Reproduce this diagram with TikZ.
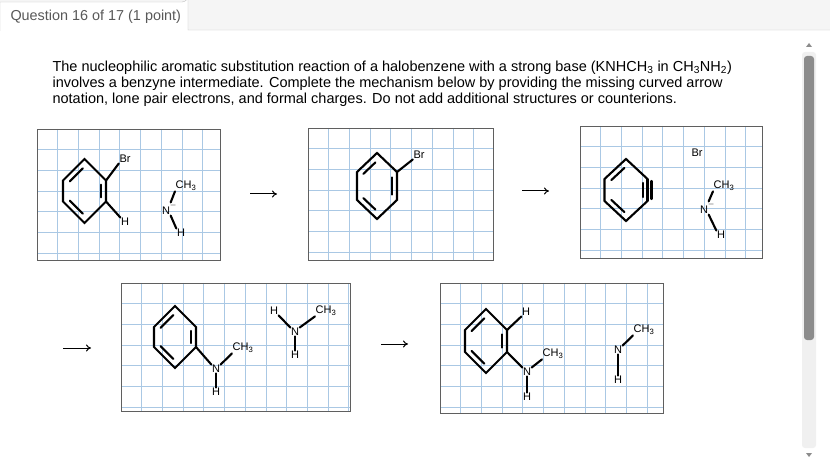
\documentclass[tikz,border=0pt]{standalone}
\usepackage{fontspec}
\setmainfont{Liberation Sans}
\usetikzlibrary{calc,arrows.meta}
\definecolor{gridc}{RGB}{170,200,228}
\definecolor{boxc}{RGB}{95,95,95}
\tikzset{
 gridbox/.style={draw=boxc,line width=0.9pt},
 bond/.style={line width=2.1pt,line cap=round},
 atom/.style={font=\fontsize{11}{11}\selectfont,inner sep=0.5pt,fill=none},
 rxn/.style={line width=1pt,-{To[length=5pt,width=7pt]}},
}
\newcommand\gbox[5]{% name x1 y1 x2 y2
 \begin{scope}
 \clip (#2,#3) rectangle (#4,#5);
 \foreach \i in {1,...,12}{\draw[gridc,line width=0.7pt] ({#2+20.7*\i},#3) -- ({#2+20.7*\i},#5);
   \draw[gridc,line width=0.7pt] (#2,{#3+20.7*\i}) -- (#4,{#3+20.7*\i});}
 \end{scope}
 \node[gridbox,minimum width={(#4-#2)*1pt},minimum height={(#5-#3)*1pt},anchor=north west,inner sep=0] (#1) at (#2,#3) {};}
% name cx cy halfwidth halfedge topoffset
\newcommand\ring[6]{%
 \coordinate (#1c) at (#2,#3);
 \coordinate (#11) at (#2,{#3-#6});
 \coordinate (#12) at ({#2+#4},{#3-#5});
 \coordinate (#13) at ({#2+#4},{#3+#5});
 \coordinate (#14) at (#2,{#3+#6});
 \coordinate (#15) at ({#2-#4},{#3+#5});
 \coordinate (#16) at ({#2-#4},{#3-#5});}
\newcommand\dbl[3]{\draw[bond] ($($(#1)!0.1!(#2)$)!0.24!(#3)$) -- ($($(#2)!0.1!(#1)$)!0.24!(#3)$);}
\begin{document}
\begin{tikzpicture}[x=1pt,y=-1pt]
\useasboundingbox (0,0) rectangle (830,462);
\fill[white] (0,0) rectangle (830,462);
% header
\fill[black!4] (0,0) rectangle (830,30);
\draw[black!25,fill=white] (0,31) -- (0,2) -- (182,2) arc[start angle=90,end angle=0,radius=6] -- (188,30) -- (830,30);
\node[anchor=west,text=black!65,font=\fontsize{14.4}{14}\selectfont] (hdr) at (7,17) {Question 16 of 17 (1 point)};
% scrollbar
\fill[black!6,rounded corners=3pt] (802,52) rectangle (816,448);
\fill[black!45,rounded corners=3pt] (804,56) rectangle (814,340);
\fill[black!45] (806,47) -- (812,47) -- (809,43) -- cycle;
\fill[black!45] (806,453) -- (812,453) -- (809,457) -- cycle;
% text
\node[anchor=north west,align=left,font=\fontsize{14.5}{16}\selectfont] (txt) at (49,57)
{The nucleophilic aromatic substitution reaction of a halobenzene with a strong base (KNHCH\textsubscript{3} in CH\textsubscript{3}NH\textsubscript{2})\\
involves a benzyne intermediate. Complete the mechanism below by providing the missing curved arrow\\
notation, lone pair electrons, and formal charges. Do not add additional structures or counterions.};
% boxes
\gbox{b1}{37}{129}{220}{260}
\gbox{b2}{308}{128}{493}{260}
\gbox{b3}{580}{126}{762}{258}
\gbox{b4}{121}{283}{350}{411}
\gbox{b5}{440}{283}{663}{413}
% arrows
\coordinate (a1s) at (250,194); \coordinate (a1e) at (277,194);
\draw[rxn] (a1s) -- (a1e);
\coordinate (a2s) at (522,191); \coordinate (a2e) at (549,191);
\draw[rxn] (a2s) -- (a2e);
\coordinate (a3s) at (63,348); \coordinate (a3e) at (91,348);
\draw[rxn] (a3s) -- (a3e);
\coordinate (a4s) at (381,344); \coordinate (a4e) at (408,344);
\draw[rxn] (a4s) -- (a4e);
% box1
\ring{r}{84.5}{191}{21.5}{10.5}{32}
\draw[bond] (r1)--(r2)--(r3)--(r4)--(r5)--(r6)--cycle;
\dbl{r6}{r1}{rc}\dbl{r4}{r5}{rc}\dbl{r2}{r3}{rc}
\node[atom] (br1) at (125,159) {Br};
\node[atom] (h1) at (125,222) {H};
\draw[bond] (r2) -- (br1.south west);
\draw[bond] (r3) -- (h1.north west);
\node[atom] (n1) at (166,209) {N\rlap{\raisebox{3pt}{$^{-}$}}};
\node[atom] (c1) at (186,186) {CH\textsubscript{3}};
\node[atom] (hn1) at (181,233) {H};
\draw[bond] (n1.north east) -- (c1.south west);
\draw[bond] (n1.south east) -- (hn1.north west);
% box2
\ring{s}{377}{186}{20}{14}{33}
\draw[bond] (s1)--(s2)--(s3)--(s4)--(s5)--(s6)--cycle;
\dbl{s6}{s1}{sc}\dbl{s4}{s5}{sc}\dbl{s2}{s3}{sc}
\node[atom] (br2) at (419,155) {Br};
\draw[bond] (s2) -- (br2.south west);
% box3
\ring{t}{626}{190}{21.5}{11}{31}
\draw[bond] (t3)--(t4)--(t5)--(t6)--(t1)--(t2);
\draw[bond] (t2)--(t3);
\dbl{t6}{t1}{tc}\dbl{t4}{t5}{tc}
\draw[bond] ($(t2)+(4,2)$) -- ($(t3)+(4,-2)$);
\draw[bond] ($($(t2)!0.1!(t3)$)!0.2!(tc)$) -- ($($(t3)!0.1!(t2)$)!0.2!(tc)$);
\node[atom] (br3) at (697,153) {Br};
\node[atom] (n3) at (704,208) {N\rlap{\raisebox{3pt}{$^{-}$}}};
\node[atom] (c3) at (724,186) {CH\textsubscript{3}};
\node[atom] (hn3) at (721,235) {H};
\draw[bond] (n3.north east) -- (c3.south west);
\draw[bond] (n3.south east) -- (hn3.north west);
% box4
\ring{u}{175}{337}{21}{10}{31}
\draw[bond] (u1)--(u2)--(u3)--(u4)--(u5)--(u6)--cycle;
\dbl{u6}{u1}{uc}\dbl{u4}{u5}{uc}\dbl{u2}{u3}{uc}
\node[atom] (n4) at (216,369) {N};
\node[atom] (c4) at (243,348) {CH\textsubscript{3}};
\node[atom] (hn4) at (216,392) {H};
\draw[bond] (u3) -- (n4.north west);
\draw[bond] (n4.north east) -- (c4.south west);
\draw[bond] (n4.south) -- (hn4.north);
\node[atom] (ha) at (274,311) {H};
\node[atom] (na) at (295,332) {N};
\node[atom] (ca) at (326,311) {CH\textsubscript{3}};
\node[atom] (hb) at (295,355) {H};
\draw[bond] (ha.south east) -- (na.north west);
\draw[bond] (na.north east) -- (ca.south west);
\draw[bond] (na.south) -- (hb.north);
% box5
\ring{v}{486}{341}{21}{11}{32}
\draw[bond] (v1)--(v2)--(v3)--(v4)--(v5)--(v6)--cycle;
\dbl{v6}{v1}{vc}\dbl{v4}{v5}{vc}\dbl{v2}{v3}{vc}
\node[atom] (h5) at (526,312) {H};
\draw[bond] (v2) -- (h5.south west);
\node[atom] (n5) at (527,372) {N};
\node[atom] (c5) at (553,354) {CH\textsubscript{3}};
\node[atom] (hn5) at (527,397) {H};
\draw[bond] (v3) -- (n5.north west);
\draw[bond] (n5.north east) -- (c5.south west);
\draw[bond] (n5.south) -- (hn5.north);
\node[atom] (n6) at (618,350) {N};
\node[atom] (c6) at (644,330) {CH\textsubscript{3}};
\node[atom] (hn6) at (618,380) {H};
\draw[bond] (n6.north east) -- (c6.south west);
\draw[bond] (n6.south) -- (hn6.north);
\end{tikzpicture}
\end{document}
